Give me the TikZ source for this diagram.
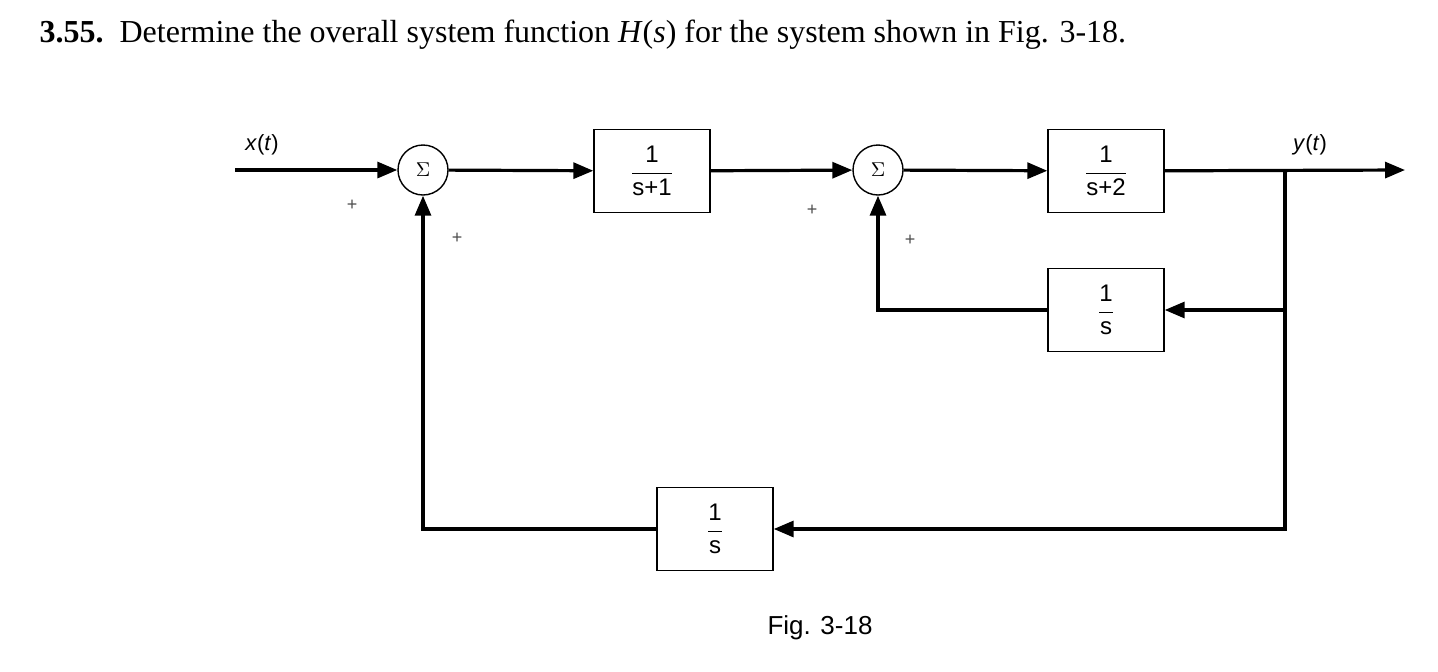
\documentclass[tikz,border=0pt]{standalone}
\usepackage{amsmath}
\usepackage{fontspec}
\setmainfont{Liberation Serif}
\newfontfamily\sansf{Liberation Sans}
\usetikzlibrary{arrows.meta}
\newcommand{\sfrac}[2]{$\displaystyle\frac{\text{\sansf #1}}{\text{\sansf #2}}$}
\begin{document}
\begin{tikzpicture}[x=0.5pt,y=-0.5pt,
  line width=1.6pt,
  arr/.style={-{Triangle[length=10pt,width=8pt]}},
  blk/.style={draw,line width=0.7pt,minimum width=58pt,minimum height=41.5pt,inner sep=0pt,font=\fontsize{12}{14}\selectfont},
  sum/.style={draw,circle,line width=0.7pt,minimum size=25pt,inner sep=0pt,font=\fontsize{10}{12}\selectfont},
  lbl/.style={font=\sansf\fontsize{11}{13}\selectfont},
  pl/.style={font=\sansf\fontsize{9}{10}\selectfont,text=black!70}]
\useasboundingbox (0,0) rectangle (1438,671);
\node[anchor=west,font=\fontsize{16}{18}\selectfont,inner sep=0pt] (title) at (38,35) {\textbf{3.55.}\ \ Determine the overall system function \textit{H}(\textit{s}) for the system shown in Fig. 3-18.};
\coordinate (in) at (235,170);
\node[sum] (s1) at (423,170) {$\Sigma$};
\node[blk] (b1) at (652,171) {\sfrac{1}{s+1}};
\node[sum] (s2) at (878,170) {$\Sigma$};
\node[blk] (b2) at (1106,171) {\sfrac{1}{s+2}};
\node[blk] (b3) at (1106,310) {\sfrac{1}{s}};
\node[blk] (b4) at (715,529) {\sfrac{1}{s}};
\coordinate (out) at (1405,170);
\coordinate (br) at (1285,170);
\node[lbl] (xl) at (262,145) {\textit{x}(\textit{t})};
\node[lbl] (yl) at (1310,145) {\textit{y}(\textit{t})};
\node[pl] (p1) at (352,205) {+};
\node[pl] (p2) at (457,238) {+};
\node[pl] (p3) at (812,210) {+};
\node[pl] (p4) at (910,240) {+};
\node[font=\sansf\fontsize{13}{15}\selectfont] (fig) at (820,628) {Fig. 3-18};
\draw[arr] (in) -- (s1);
\draw[arr] (s1) -- (b1);
\draw[arr] (b1) -- (s2);
\draw[arr] (s2) -- (b2);
\draw[arr] (b2) -- (out);
\draw[arr] (br) |- (b3.east);
\draw[arr] (b3.west) -| (s2.south);
\draw[arr] (br) |- (b4.east);
\draw[arr] (b4.west) -| (s1.south);
\end{tikzpicture}
\end{document}
